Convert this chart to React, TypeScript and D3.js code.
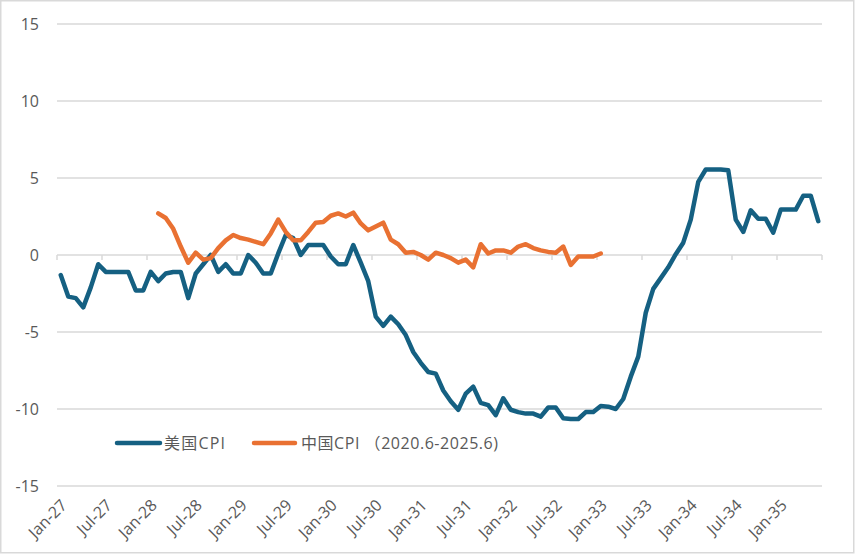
import React from "react";
import * as d3 from "d3";

const W = 858;
const H = 555;

const monthNames = ["Jan", "Feb", "Mar", "Apr", "May", "Jun", "Jul", "Aug", "Sep", "Oct", "Nov", "Dec"];
const yearCodes = ["27", "28", "29", "30", "31", "32", "33", "34", "35"];
const categories: string[] = [];
yearCodes.forEach((yy) => monthNames.forEach((m) => categories.push(`${m}-${yy}`)));
categories.length = 102; // Jan-27 .. Jun-35

const tickLabels = [
  "Jan-27", "Jul-27", "Jan-28", "Jul-28", "Jan-29", "Jul-29", "Jan-30", "Jul-30", "Jan-31",
  "Jul-31", "Jan-32", "Jul-32", "Jan-33", "Jul-33", "Jan-34", "Jul-34", "Jan-35",
];
const yTicks = [15, 10, 5, 0, -5, -10, -15];

const usCPI = [
  -1.3, -2.7, -2.8, -3.4, -2.1, -0.6, -1.1, -1.1, -1.1, -1.1, -2.3, -2.3,
  -1.1, -1.7, -1.2, -1.1, -1.1, -2.8, -1.2, -0.6, 0.0, -1.1, -0.6, -1.2,
  -1.2, 0.0, -0.5, -1.2, -1.2, 0.1, 1.3, 1.1, 0.0, 0.65, 0.65, 0.65,
  -0.1, -0.6, -0.6, 0.65, -0.5, -1.7, -4.0, -4.6, -4.0, -4.5, -5.2, -6.3,
  -7.0, -7.6, -7.7, -8.8, -9.5, -10.05, -9.0, -8.55, -9.6, -9.75, -10.4, -9.3,
  -10.05, -10.2, -10.3, -10.3, -10.5, -9.9, -9.9, -10.6, -10.65, -10.65, -10.2, -10.2,
  -9.8, -9.85, -10.0, -9.35, -7.9, -6.6, -3.75, -2.2, -1.5, -0.8, 0.05, 0.8,
  2.3, 4.75, 5.55, 5.55, 5.55, 5.5, 2.3, 1.5, 2.9, 2.35, 2.35, 1.45,
  2.95, 2.95, 2.95, 3.85, 3.85, 2.2,
];

const chinaStart = "Feb-28";
const chinaCPI = [
  2.7, 2.4, 1.7, 0.55, -0.5, 0.15, -0.3, -0.2, 0.45, 0.95, 1.3, 1.1,
  1.0, 0.85, 0.7, 1.4, 2.3, 1.5, 0.95, 0.95, 1.5, 2.1, 2.15, 2.55,
  2.7, 2.5, 2.75, 2.05, 1.6, 1.85, 2.1, 1.0, 0.7, 0.15, 0.2, 0.0,
  -0.3, 0.15, 0.0, -0.2, -0.5, -0.3, -0.8, 0.7, 0.1, 0.3, 0.3, 0.15,
  0.55, 0.7, 0.45, 0.3, 0.2, 0.15, 0.55, -0.65, -0.1, -0.1, -0.1, 0.1,
];

const seriesNames = ["美国CPI", "中国CPI （2020.6-2025.6)"];
const colors = ["#156082", "#E97132"];

const FONT = "'Open Sans', 'Noto Sans CJK SC', sans-serif";
const TEXT = "#595959";
const GRID = "#d9d9d9";

export default function App() {
  const left = 57;
  const right = 822;
  const top = 24;
  const bottom = 486;

  const x = d3.scaleBand<string>().domain(categories).range([left, right]).paddingInner(0).paddingOuter(0);
  const bw = x.bandwidth();
  const cx = (c: string) => (x(c) as number) + bw / 2;
  const y = d3.scaleLinear().domain([-15, 15]).range([bottom, top]);

  const usPts: [number, number][] = usCPI.map((v, i) => [cx(categories[i]), y(v)]);
  const cStart = categories.indexOf(chinaStart);
  const cnPts: [number, number][] = chinaCPI.map((v, i) => [cx(categories[cStart + i]), y(v)]);
  const line = d3.line<[number, number]>().x((d) => d[0]).y((d) => d[1]);

  const tickIdx = tickLabels.map((t) => categories.indexOf(t));
  const tickXs = [...tickIdx.map((i) => x(categories[i]) as number), right];

  const legendY = 443;
  const legendItems = [
    { x0: 117, x1: 160, tx: 164, len: 61 },
    { x0: 254, x1: 295, tx: 301, len: 197 },
  ];

  return (
    <svg width={W} height={H} style={{ position: "absolute", left: 0, top: 0, background: "#fff" }} fontFamily={FONT}>
      <rect x={0.75} y={0.75} width={W - 5} height={H - 3} fill="#fff" stroke={GRID} strokeWidth={1.5} />
      {yTicks.map((t) => (
        <g key={t}>
          <line x1={left} x2={right} y1={y(t)} y2={y(t)} stroke={GRID} strokeWidth={1.5} />
          <text x={39} y={y(t)} textAnchor="end" dominantBaseline="central" fontSize={16} fill={TEXT}>
            {t}
          </text>
        </g>
      ))}
      {tickXs.map((tx, i) => (
        <line key={i} x1={tx} x2={tx} y1={y(0)} y2={y(0) + 5} stroke={GRID} strokeWidth={1.5} />
      ))}
      {tickIdx.map((ci, i) => {
        const px = cx(categories[ci]) + 3;
        const py = 502;
        return (
          <text
            key={i}
            x={px}
            y={py}
            transform={`rotate(-45 ${px} ${py})`}
            textAnchor="end"
            dominantBaseline="central"
            fontSize={16}
            fill={TEXT}
          >
            {tickLabels[i]}
          </text>
        );
      })}
      <path d={line(usPts) || ""} fill="none" stroke={colors[0]} strokeWidth={4.5} strokeLinejoin="round" strokeLinecap="round" />
      <path d={line(cnPts) || ""} fill="none" stroke={colors[1]} strokeWidth={4.5} strokeLinejoin="round" strokeLinecap="round" />
      {legendItems.map((it, i) => (
        <g key={i}>
          <line x1={it.x0} x2={it.x1} y1={legendY} y2={legendY} stroke={colors[i]} strokeWidth={4.5} strokeLinecap="round" />
          <text
            x={it.tx}
            y={legendY}
            dominantBaseline="central"
            fontSize={16}
            fill={TEXT}
            textLength={it.len}
            lengthAdjust="spacing"
          >
            {seriesNames[i]}
          </text>
        </g>
      ))}
    </svg>
  );
}
